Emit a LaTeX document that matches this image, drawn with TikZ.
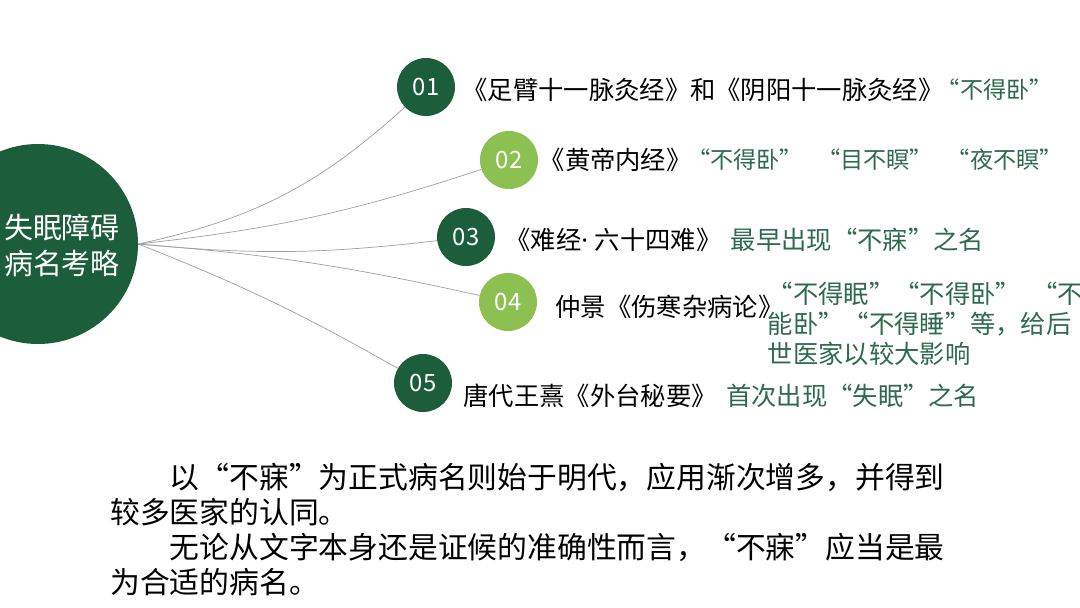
\documentclass[tikz,border=0pt]{standalone}
\usepackage{fontspec}
\setmainfont{Noto Sans CJK SC}
\newfontfamily\latinfont{Noto Sans}
\usetikzlibrary{positioning}
\definecolor{deepgreen}{HTML}{1C5E3B}
\definecolor{leafgreen}{HTML}{8CC152}
\definecolor{notegreen}{HTML}{2E6B4C}

\begin{document}
\begin{tikzpicture}[
  x=0.25mm, y=-0.25mm,
  every node/.style={inner sep=0pt},
  hub/.style={circle, fill=deepgreen, minimum size=50mm},
  num/.style={circle, fill=#1, minimum size=14.5mm, text=white, font=\fontsize{17}{20}\selectfont},
  num/.default={deepgreen},
  book/.style={font=\fontsize{18}{21.5}\selectfont},
  note/.style={font=\fontsize{18}{21.5}\selectfont, text=notegreen, align=left},
  small note/.style={note, font=\fontsize{16.5}{20}\selectfont},
  link/.style={draw=gray!75, line width=0.5pt},
]
\useasboundingbox (0,0) rectangle (1080,607);
\fill[white] (0,0) rectangle (1080,607);
\clip (0,0) rectangle (1080,607);

% Hub
\node[hub] (main) at (38,244) {};
\node[text=white, font=\fontsize{20.6}{25.6}\selectfont, align=center] (title) at (62,245) {失眠障碍\\病名考略};

% Numbered circles
\node[num] (c1) at (426,87) {01};
\node[num=leafgreen] (c2) at (509,160) {02};
\node[num] (c3) at (466,237) {03};
\node[num=leafgreen] (c4) at (508,302) {04};
\node[num] (c5) at (423,383) {05};

% Sources and notes
\node[book, right=1.75mm of c1, yshift=-0.75mm] (b1) {《足臂十一脉灸经》和《阴阳十一脉灸经》};
\node[small note, right=-1.75mm of b1] (n1) {“不得卧”};

\node[book, right=0.3mm of c2] (b2) {《黄帝内经》};
\node[small note, right=-1.25mm of b2] (n2) {“不得卧”\hspace{0.6em}“目不瞑”\hspace{0.6em}“夜不瞑”};

\node[book, right=2.5mm of c3, yshift=-0.75mm] (b3) {《难经{\latinfont·\ }六十四难》};
\node[note, right=2.25mm of b3] (n3) {最早出现“不寐”之名};

\node[book, right=4.5mm of c4, yshift=-1.25mm] (b4) {仲景《伤寒杂病论》};
\node[note, right=-4mm of b4, yshift=-4.25mm] (n4) {“不得眠”“不得卧”\hspace{8pt}“不\\能卧”“不得睡”等，给后\\世医家以较大影响};

\node[book, right=2.75mm of c5, yshift=-3.25mm] (b5) {唐代王熹《外台秘要》};
\node[note, right=2.25mm of b5] (n5) {首次出现“失眠”之名};

% Links
\draw[link] (main.east) to[bend right=15] (c1);
\draw[link] (main.east) to[bend right=6] (c2);
\draw[link] (main.east) to[bend right=6] (c3);
\draw[link] (main.east) to[bend left=4] (c4);
\draw[link] (main.east) to[bend left=4] (c5);

% Closing remark
\node[anchor=north west, align=left, font=\fontsize{21.2}{24.9}\selectfont] (remark) at (110,463)
  {\hspace*{2em}以“不寐”为正式病名则始于明代，应用渐次增多，并得到\\
   较多医家的认同。\\
   \hspace*{2em}无论从文字本身还是证候的准确性而言，“不寐”应当是最\\
   为合适的病名。};
\end{tikzpicture}
\end{document}
